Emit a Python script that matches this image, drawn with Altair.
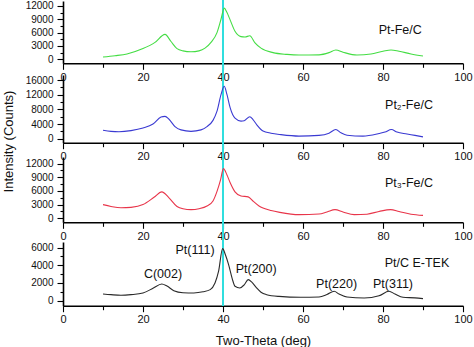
import altair as alt
import pandas as pd

FONT = "Liberation Sans"

# ---- data ----
green_x = [10, 13, 16, 20, 23, 25.5, 27, 28.5, 30, 32, 34, 35.5, 37, 38.5, 39.5, 40.3, 41, 41.8, 43, 44.5, 45.5, 46.7, 48, 49.5, 52.5, 56, 59, 64, 66.5, 68.2, 70, 73.5, 77, 80, 82, 84, 87, 90]
green_y = [500, 800, 1200, 2400, 3800, 5600, 4000, 2400, 1900, 1700, 1900, 2500, 3800, 6000, 9000, 11500, 10500, 8800, 6300, 5100, 5000, 5300, 3700, 2500, 1500, 1100, 950, 1000, 1500, 2100, 1600, 950, 1200, 1800, 2100, 1800, 1200, 750]

blue_x = [10, 12, 14, 17, 20, 22.5, 24.5, 25.5, 26.5, 28, 29.5, 32, 34.5, 36, 37.5, 38.5, 39.5, 40.3, 41, 41.8, 43, 44.5, 45.3, 46.7, 47.5, 48.5, 50, 52, 54.5, 59, 64, 66.5, 68.2, 69.5, 71, 75, 79, 80.5, 82.1, 83.5, 86, 88, 90]
blue_y = [2300, 2000, 1900, 2200, 2900, 4000, 5900, 6100, 5300, 3300, 2400, 2000, 2400, 3300, 5000, 7500, 12000, 14300, 12000, 8400, 5600, 4800, 4900, 6000, 5200, 3700, 2100, 1500, 1100, 700, 900, 1500, 2500, 1600, 950, 700, 1400, 1800, 2500, 1800, 1300, 900, 500]

red_x = [10, 12, 14.5, 17, 20, 22.75, 24.7, 26.5, 28.5, 30, 32, 34, 36, 37.5, 38.5, 39.4, 40.1, 41, 41.8, 43, 44.5, 46.3, 47.6, 49, 50, 52, 54.2, 59, 64, 66, 68, 70, 72.8, 76, 79, 81.9, 84, 87, 90]
red_y = [3000, 2600, 2300, 2400, 3000, 4600, 5800, 4500, 2600, 2100, 1900, 2100, 2700, 3800, 5900, 8500, 10900, 9500, 7800, 5800, 4900, 4700, 3700, 2700, 2250, 1700, 1300, 800, 950, 1400, 1900, 1400, 800, 900, 1500, 1900, 1500, 900, 650]

black_x = [10, 12, 14.5, 17, 20, 22.5, 24.7, 26, 27.7, 30, 32.7, 35, 36.8, 38, 38.9, 39.9, 40.6, 41.4, 42.3, 43, 44.2, 45.3, 46.3, 47.2, 48.4, 49.5, 50.9, 54, 59.4, 64, 66, 67.8, 69, 71, 75.3, 79, 81.5, 83, 85, 88, 90]
black_y = [760, 680, 610, 680, 870, 1400, 1890, 1650, 1130, 900, 870, 1000, 1250, 2000, 3330, 5890, 5200, 4080, 2500, 1630, 1440, 1800, 2380, 2100, 1440, 950, 680, 480, 380, 420, 700, 1060, 750, 420, 300, 550, 1060, 750, 380, 320, 230]

sample_names = ["Pt-Fe/C", "Pt\u2082-Fe/C", "Pt\u2083-Fe/C", "Pt/C E-TEK"]
sample_label_x = [84.3, 86.5, 86.5, 88.5]
sample_label_y = [6600, 9270, 7750, 4270]

peak_names = ["C(002)", "Pt(111)", "Pt(200)", "Pt(220)", "Pt(311)"]
peak_label_x = [25, 33, 48.3, 68.4, 82.5]
peak_label_y = [3060, 5700, 3620, 1890, 1890]

x_major_ticks = [0, 20, 40, 60, 80, 100]
x_minor_ticks = [10, 30, 50, 70, 90]

ref_line_x = [40]
x_title = "Two-Theta (deg)"
y_title = "Intensity (Counts)"

colors = ["#44dd44", "#3a3ad2", "#e8354a", "#2a2a2a"]

W, H = 400, 306


def panel(xs, ys, color, ydom, yrange, major, minor, xoffset, labels_df, xtitle=None, ytitle=None):
    df = pd.DataFrame({"x": xs, "y": ys})
    xscale = alt.Scale(domain=[0, 100], nice=False, zero=False)
    yscale = alt.Scale(domain=ydom, range=yrange, nice=False, zero=False)
    xaxis_kw = dict(
        values=x_major_ticks,
        orient="bottom",
        offset=xoffset,
        tickSize=6,
        labelFontSize=11,
        labelPadding=2,
        labelFlush=False,
        labelOverlap=False,
        format="d",
        grid=False,
    )
    if xtitle:
        xaxis_kw.update(title=xtitle, titleFontSize=13, titleFontWeight="normal", titlePadding=10, titleFont=FONT, titleColor="#111")
    else:
        xaxis_kw.update(title=None)
    top = int(ydom[1] // major * major)
    yaxis_kw = dict(
        values=list(range(0, top + 1, major)),
        orient="left",
        tickSize=6,
        labelFontSize=10,
        labelPadding=4,
        labelFlush=False,
        labelOverlap=False,
        format="d",
        grid=False,
    )
    if ytitle:
        yaxis_kw.update(title=ytitle, titleX=-55, titleY=141, titleAngle=270, titleBaseline="middle",
                        titleAlign="center", titleFontSize=13, titleFontWeight="normal", titleFont=FONT, titleColor="#111")
    else:
        yaxis_kw.update(title=None)
    line = alt.Chart(df).mark_line(interpolate="monotone", strokeWidth=1.1, color=color).encode(
        x=alt.X("x:Q", scale=xscale, axis=alt.Axis(**xaxis_kw)),
        y=alt.Y("y:Q", scale=yscale, axis=alt.Axis(**yaxis_kw)),
    )
    txt = alt.Chart(labels_df).mark_text(font=FONT, fontSize=12.5, color="#111", align="center", baseline="middle").encode(
        x=alt.X("x:Q", scale=xscale),
        y=alt.Y("y:Q", scale=yscale),
        text="t:N",
    )
    # minor ticks: an invisible copy of the series carrying tick-only axes
    ymin_top = int(ydom[1] // minor * minor)
    y_minor = [v for v in range(0, ymin_top + 1, minor) if v % major != 0]
    minor_layer = alt.Chart(df).mark_line(strokeOpacity=0).encode(
        x=alt.X("x:Q", scale=xscale, axis=alt.Axis(values=x_minor_ticks, orient="bottom", offset=xoffset,
                                                   labels=False, domain=False, tickSize=4, grid=False, title=None)),
        y=alt.Y("y:Q", scale=yscale, axis=alt.Axis(values=y_minor, orient="left", labels=False, domain=False,
                                                   tickSize=3, grid=False, title=None)),
    )
    return alt.layer(line, txt), minor_layer


def lab(i):
    return pd.DataFrame({"x": [sample_label_x[i]], "y": [sample_label_y[i]], "t": [sample_names[i]]})


peaks_df = pd.DataFrame({"x": peak_label_x, "y": peak_label_y, "t": peak_names})
lab4 = pd.concat([lab(3), peaks_df], ignore_index=True)

p1, m1 = panel(green_x, green_y, colors[0], [-900, 13100], [63.3, 1], 3000, 1500, -(H - 63.3), lab(0))
p2, m2 = panel(blue_x, blue_y, colors[1], [-1090, 17370], [142.7, 75], 4000, 2000, -(H - 142.7), lab(1), ytitle=y_title)
p3, m3 = panel(red_x, red_y, colors[2], [-880, 13450], [222.3, 157], 3000, 1500, -(H - 222.3), lab(2))
p4, m4 = panel(black_x, black_y, colors[3], [-570, 6640], [305.7, 242], 2000, 1000, -(H - 305.7), lab4, xtitle=x_title)

rule = alt.Chart(pd.DataFrame({"x": ref_line_x})).mark_rule(color="#30dede", strokeWidth=2).encode(
    x=alt.X("x:Q", scale=alt.Scale(domain=[0, 100], nice=False, zero=False), axis=None),
    y=alt.value(0),
    y2=alt.value(H),
)

chart = alt.layer(rule, p1, m1, p2, m2, p3, m3, p4, m4).resolve_scale(
    x="independent", y="independent"
).resolve_axis(
    x="independent", y="independent"
).properties(
    width=W, height=H,
    autosize=alt.AutoSizeParams(type="none"),
    padding={"left": 63, "top": 0, "right": 11, "bottom": 41},
).configure_view(stroke=None).configure_axis(
    domainColor="#000", domainWidth=1.6, tickColor="#000", tickWidth=1.1,
    labelColor="#111", labelFont=FONT, titleFont=FONT,
)

chart.save("out.html", embed_options={"renderer": "svg", "actions": False})
